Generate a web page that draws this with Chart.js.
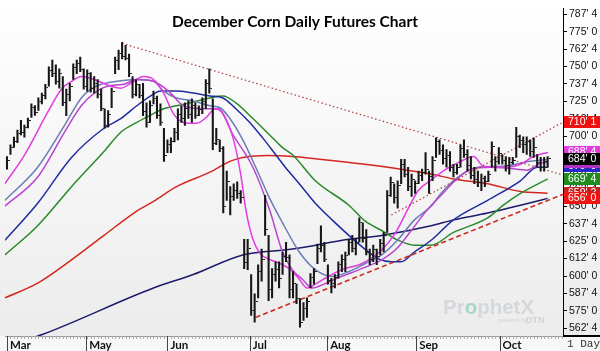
<!DOCTYPE html>
<html>
<head>
<meta charset="utf-8">
<script src="https://cdn.jsdelivr.net/npm/chart.js@4.4.1/dist/chart.umd.min.js"></script>
<style>
  html, body { margin: 0; padding: 0; background: #fff; }
  #wrap { width: 600px; height: 351px; position: relative; }
</style>
</head>
<body>
<div id="wrap"><canvas id="chart"></canvas></div>
<script>
// daily bars (cents per bushel), one entry per trading day
const highs = [685.5,694,699.5,704.5,711.5,708,713,723.3,722,727.5,731,737.3,749.8,754.7,751.2,748.4,742.8,733.8,738,751.9,
  754.7,756.8,748.4,747.7,745.6,742.8,740.7,733.8,719.8,718.4,734.5,756.8,761.7,767.3,765.2,758.9,742.8,740.7,737.3,738,
  724,725.4,732.4,728.9,723.3,705.8,697.5,698.9,705.8,719.8,721.9,724,725.4,726.8,724,721.9,727.5,740.7,748.4,726.8,
  705.8,697.5,692.6,675.1,664,666.1,667.5,661.2,626.3,626.3,601.1,587.2,608.1,619.3,657.7,629.1,605.3,610.2,610.2,617.2,
  624.2,615.1,603.2,594.2,583.7,580.9,584.4,601.8,605.3,622.8,636,624.2,608.1,598.4,601.1,610.2,615.1,617.2,626.3,629.1,
  626.3,641.6,638.1,633.3,619.3,622.1,619.3,626.3,631.2,661.2,670.9,666.1,668.2,683.5,683.5,677.9,673,668.2,675.1,676.5,
  688.4,675.1,685.6,698.9,697.5,694,690.5,689.1,680,680,694,697.5,690.5,685.6,677.9,675.1,673,671.6,675.1,696.1,
  685.6,691.9,687,685.6,684.9,684.9,706.5,701,699.6,699.6,697.5,698.9,687,684.9,684.9,685.6];
const lows = [676.5,687,692,695.5,701,699.5,706,713.5,715,718.5,723.3,726.8,735.9,742.8,737.3,734.5,721.9,714.9,725.4,740.7,
  744.9,746.3,733.8,732.4,731.7,731,727.5,718.4,705.8,706.5,720.5,744.9,747.7,755.4,754.7,742.8,727.5,728.9,727.5,714.9,
  706.5,710,723.3,712.8,707.9,682.1,688.4,688.4,696.1,697.5,710,707.9,712.8,710,712.8,714.9,716.3,719.8,731,690.5,
  694,689.1,645.1,654.2,643.7,654.2,655.6,652.1,605.3,604.6,571.8,566.9,584.4,596.3,629.1,582.3,584.4,596.3,591.4,601.1,
  610.2,584.4,584.4,580.2,563.4,568.3,570.4,591.4,594.2,608.8,617.2,610.2,594.2,587.9,591.4,598.4,603.2,603.2,615.1,617.2,
  615.1,624.2,624.2,615.1,608.1,610.2,608.1,615.1,617.2,631.2,657,652.1,648.6,666.1,670.9,661.2,657,659.1,666.1,668.2,
  673,659.1,668.2,684.9,687,680,677.9,675.1,670.9,673,677.9,684.9,675.1,669.5,666.1,664,661.2,664,667.5,677.9,
  675.1,680,680,675.1,673,680,684.9,691.9,688.4,687,685.6,684.9,677.9,675.1,675.1,677.9];
const closes = [683,692,696,702,703,706,711,721,717,725,729,735,747,745,739,745,724,730,736,749,
  752,748,736,745,734,738,730,720,708,716,732,754,759,757,756,745,730,737,729,718,
  710,722,727,715,710,686,694,696,703,716,713,720,716,722,715,719,725,738,734,695,
  698,691,650,668,657,661,659,656,610,620,575,582,603,612,633,590,601,605,598,614,
  613,590,595,584,567,577,582,599,603,620,622,612,597,595,599,608,612,615,624,620,
  624,638,627,617,612,619,614,623,629,658,667,656,665,680,673,664,669,666,672,674,
  676,671,683,696,690,684,686,678,674,678,691,687,679,672,669,667,670,668,673,693,
  682,688,683,679,681,683,700,697,694,696,689,692,681,678,682,684];

// moving averages: [bar index, value]
const maFast = [[-0.6,666.1],[5.1,687],[11.6,717],[15.6,733.8],[18.5,739.4],[21.3,742.8],[25,740.7],[29.8,735.9],[32.7,734.5],
  [35.5,738],[39.2,742.8],[42,740.7],[44.9,731],[47.7,716.3],[50.6,710],[54.3,709.3],[57.1,713.5],[59.7,719.8],[61.9,716.3],
  [64.8,698.9],[67,673],[68.5,647.2],[70.5,626.3],[72.7,615.8],[75.6,611.6],[78.4,608.8],[81.3,604.6],[83.8,597.7],[86.1,591.4],
  [88.4,594.2],[91.2,598.4],[96,604.6],[101.7,608.8],[107.4,618.6],[111.1,629.8],[115.1,648.6],[117.9,661.2],[121.6,668.8],
  [125.9,676.5],[130.1,682.1],[133.8,685.6],[136.6,678.6],[143.5,677.9],[147.2,680],[150.9,685.6],[155.1,688.5]];
const maSlow = [[-0.6,650],[8.8,670.9],[16.5,703.1],[21.3,721.9],[25,731],[28.7,735.9],[33.5,737.3],[37.2,740.7],[42,739.4],
  [46.3,732.4],[50.6,721.9],[56.3,719.8],[60.5,719.8],[64.8,701],[70.5,677.9],[75.3,647.2],[79,617.2],[81.8,604.6],[84.7,597.7],
  [87.5,591.4],[90.9,594.2],[94.6,598.4],[98.9,602.5],[103.1,606.7],[107.4,611.6],[111.6,619.3],[115.9,632.6],[120.2,646.5],
  [124.4,657.7],[128.7,668.8],[133,676.5],[138.6,677.9],[143.5,677.2],[149.1,675.8],[152.8,680.7],[155.1,681.4]];
const maSlate = [[-0.6,654.2],[8.8,677.9],[16.5,707.9],[21.3,727.5],[24.1,733.8],[27,737.3],[31.5,739.4],[37.2,740.7],[42,739.4],
  [44.9,732.4],[48.6,727.5],[53.4,725.4],[58.2,721.9],[61.1,720.5],[63.9,712.8],[67.6,697.5],[71.3,677.9],[75.3,655.6],[79,638.1],
  [83.8,617.2],[88.4,604.6],[93.2,599.7],[98,603.2],[102.6,608.8],[107.4,615.1],[112.2,626.3],[116.8,640.2],[121.6,650],
  [124.4,659.1],[129.3,670.9],[134.9,677.9],[142.3,678.6],[150,682.1],[155.1,683.5]];
const maBlue = [[-0.6,625.6],[8.8,652.1],[18.5,684.9],[27.8,705.8],[32.7,712.8],[37.2,721.9],[42,730.3],[44,732.4],[48.6,732.4],
  [53.4,731],[58.2,728.9],[61.9,727.5],[65.6,719.8],[69.6,710],[73.3,698.9],[77,687],[79.8,677.9],[83.8,666.1],[88.4,652.1],
  [93.2,640.2],[98,629.1],[102.6,619.3],[106.5,612.3],[110.2,610.2],[113,610.2],[116.8,617.2],[121.6,625.6],[128,640.2],
  [137.8,654.2],[147.2,668.2],[152,677.9],[155.1,677.9]];
const maGreen = [[-0.6,615.1],[8.8,636],[18.5,664],[27.8,689.1],[32.7,703.1],[37.2,710],[42,716.3],[44.9,719.8],[51.4,723.3],
  [58.2,727.5],[61.9,728.9],[65.6,724],[70.5,712.8],[75.3,701],[79,691.9],[81.8,687],[88.4,668.2],[98,650.7],[102.6,639.5],
  [107.4,632.6],[112.2,625.6],[116.8,622.1],[121.6,622.1],[128,631.2],[137.8,641.6],[142.3,650.7],[147.2,659.1],[155,669.5]];
const maRed = [[-0.6,584.4],[8.8,594.9],[18.5,611.6],[27.8,629.1],[37.2,646.5],[42,653.5],[48.6,664],[58.2,674.4],[63.9,682.1],
  [67.6,684.9],[74.7,686.3],[81.8,685.6],[90.3,683.5],[102.6,680],[113,676.5],[121.6,673],[128,669.5],[137.8,666.1],
  [147.2,660.5],[155,659.25]];
const maNavy = [[4,553],[9.9,557.9],[42,591.4],[53.4,601.1],[67.6,615.1],[81.8,619.3],[98,626.3],[107.4,629.1],[121.6,636],
  [128,640.2],[137.8,645.1],[147.2,650.7],[155,655.6]];

// trend lines
const trendDown = [[33,766.6],[159.4,672.3]];
const trendUpHigh = [[110.2,643.7],[159.4,710.125]];
const trendUpLow = [[71.3,570.4],[159.4,658.5]];

const monthNames = ['Mar', 'May', 'Jun', 'Jul', 'Aug', 'Sep', 'Oct'];
const monthStarts = [0, 22.7, 46, 69.6, 91.8, 117.3, 141.2];
const priceTicks = [562.5,575,587.5,600,612.5,625,637.5,650,662.5,675,687.5,700,712.5,725,737.5,750,762.5,775,787.5];

// last-value tags on the price axis (drawn bottom to top)
const tagValues = [679, 681.5, 688.5, 684, 710.125, 669.5, 659.25, 656];
const tagColors = ['#2727c8', '#b232c4', '#e03ce0', '#000000', '#f01010', '#1e8c1e', '#c82020', '#ee1414'];

function fmtPrice(v) {
  const whole = Math.floor(v + 1e-9);
  const eighths = Math.round((v - whole) * 8);
  return whole + "' " + eighths;
}

const toXY = arr => arr.map(p => ({ x: p[0], y: p[1] }));

// little right-hand tick for the close
const closeTick = document.createElement('canvas');
closeTick.width = 6;
closeTick.height = 1;
const tctx = closeTick.getContext('2d');
tctx.fillStyle = '#222';
tctx.fillRect(4, 0, 2, 1);

function maLine(data, color, width) {
  return {
    type: 'line', data: toXY(data), borderColor: color, borderWidth: width || 1.5,
    pointRadius: 0, cubicInterpolationMode: 'monotone', fill: false
  };
}
function trendLine(data, color, dash, width) {
  return {
    type: 'line', data: toXY(data), borderColor: color, borderWidth: width,
    borderDash: dash, pointRadius: 0, tension: 0, fill: false
  };
}

const decor = {
  id: 'decor',
  beforeDraw(chart) {
    const { ctx, chartArea: a, width, height } = chart;
    ctx.save();
    ctx.fillStyle = '#f7f7f7';
    ctx.fillRect(0, 0, width, height);
    const g = ctx.createLinearGradient(0, 0, 0, a.bottom);
    g.addColorStop(0, '#ffffff');
    g.addColorStop(1, '#ececec');
    ctx.fillStyle = g;
    ctx.fillRect(0, 0, width, a.bottom);
    ctx.restore();
  },
  beforeDatasetsDraw(chart) {
    const { ctx } = chart;
    ctx.save();
    ctx.font = 'bold 20.5px "Liberation Sans"';
    ctx.textBaseline = 'alphabetic';
    let x = 443;
    const parts = [['Pr', '#d5d8db'], ['o', '#a9d6c6'], ['phetX', '#d5d8db']];
    parts.forEach(([t, c]) => {
      ctx.fillStyle = c;
      ctx.fillText(t, x, 314);
      x += ctx.measureText(t).width;
    });
    ctx.fillStyle = '#d0d3d6';
    ctx.font = '5.5px "Liberation Sans"';
    ctx.fillText('powered by', 498, 322);
    ctx.font = 'bold 9px "Liberation Sans"';
    ctx.fillText('DTN', 526, 323);
    ctx.restore();
  },
  afterDraw(chart) {
    const { ctx, chartArea: a, width, height, scales } = chart;
    const xs = scales.x, ys = scales.y;
    ctx.save();
    // minor ticks on the date axis
    ctx.strokeStyle = '#aaa';
    ctx.lineWidth = 1;
    ctx.beginPath();
    for (let i = 0; i < highs.length + 4; i++) {
      const px = Math.round(xs.getPixelForValue(i)) + 0.5;
      if (px > a.right) break;
      ctx.moveTo(px, a.bottom);
      ctx.lineTo(px, a.bottom + 3);
    }
    ctx.stroke();
    // month separators
    ctx.strokeStyle = '#444';
    ctx.beginPath();
    monthStarts.forEach(v => {
      const px = Math.round(xs.getPixelForValue(v)) + 0.5;
      ctx.moveTo(px, a.bottom);
      ctx.lineTo(px, height);
    });
    ctx.stroke();
    // heavy rule under price axis
    ctx.fillStyle = '#000';
    ctx.fillRect(a.right, a.bottom - 1, width - a.right, 2);
    // interval label
    ctx.fillStyle = '#333';
    ctx.font = '11px "Liberation Mono"';
    ctx.textBaseline = 'middle';
    ctx.fillText('1 Day', a.right + 4, a.bottom + 8);
    // value tags
    ctx.font = '10.5px "Liberation Sans"';
    tagValues.forEach((v, k) => {
      const py = Math.round(ys.getPixelForValue(v));
      ctx.fillStyle = tagColors[k];
      ctx.fillRect(a.right + 1, py - 6, width - a.right - 1, 12);
      ctx.fillStyle = '#fff';
      ctx.fillText(fmtPrice(v), a.right + 5, py + 0.5);
    });
    // title
    ctx.fillStyle = '#000';
    ctx.font = 'bold 16px Lato';
    ctx.textAlign = 'center';
    ctx.textBaseline = 'alphabetic';
    const title = 'December Corn Daily Futures Chart';
    const w = ctx.measureText(title).width;
    ctx.translate(295, 27);
    ctx.scale(246 / w, 1);
    ctx.fillText(title, 0, 0);
    ctx.restore();
  }
};

new Chart(document.getElementById('chart'), {
  type: 'bar',
  data: {
    datasets: [
      {
        type: 'bar',
        data: highs.map((h, i) => ({ x: i, y: [lows[i], h] })),
        backgroundColor: '#161616', barThickness: 1.4, grouped: false
      },
      {
        type: 'line', data: closes.map((c, i) => ({ x: i, y: c })),
        showLine: false, pointStyle: closeTick, pointRadius: 2
      },
      trendLine(trendDown, '#b03a3a', [1.5, 2.5], 1.2),
      trendLine(trendUpHigh, '#b03a3a', [1.5, 2.5], 1.2),
      trendLine(trendUpLow, '#d02a22', [5, 3], 1.6),
      maLine(maFast, '#e23ce2'),
      maLine(maSlow, '#b845cf'),
      maLine(maSlate, '#6a7db4'),
      maLine(maBlue, '#1d2c9e'),
      maLine(maGreen, '#2a8a2a'),
      maLine(maRed, '#d4261e'),
      maLine(maNavy, '#1b1b6b')
    ]
  },
  options: {
    responsive: true,
    maintainAspectRatio: false,
    animation: false,
    layout: { padding: 0 },
    plugins: { legend: { display: false }, tooltip: { enabled: false }, title: { display: false } },
    scales: {
      x: {
        type: 'linear', min: -0.57, max: 159.4, offset: false,
        afterBuildTicks: s => { s.ticks = monthStarts.map(v => ({ value: v })); },
        afterFit: s => { s.height = 15; },
        grid: { drawOnChartArea: false, drawTicks: false },
        border: { color: '#999' },
        ticks: {
          callback: (v, i) => monthNames[i], align: 'start', labelOffset: 3, padding: 2,
          autoSkip: false, maxRotation: 0, color: '#111', font: { family: 'Lato', weight: 'bold', size: 11.5 }
        }
      },
      y: {
        type: 'linear', position: 'right', min: 557.06, max: 791.69,
        afterBuildTicks: s => { s.ticks = priceTicks.map(v => ({ value: v })); },
        afterFit: s => { s.width = 37; },
        grid: { drawOnChartArea: false, tickLength: 4, color: '#000' },
        border: { color: '#000' },
        ticks: {
          callback: v => fmtPrice(v), padding: 2, color: '#111',
          font: { family: 'Liberation Sans', size: 10.5 }
        }
      }
    }
  },
  plugins: [decor]
});
</script>
</body>
</html>
